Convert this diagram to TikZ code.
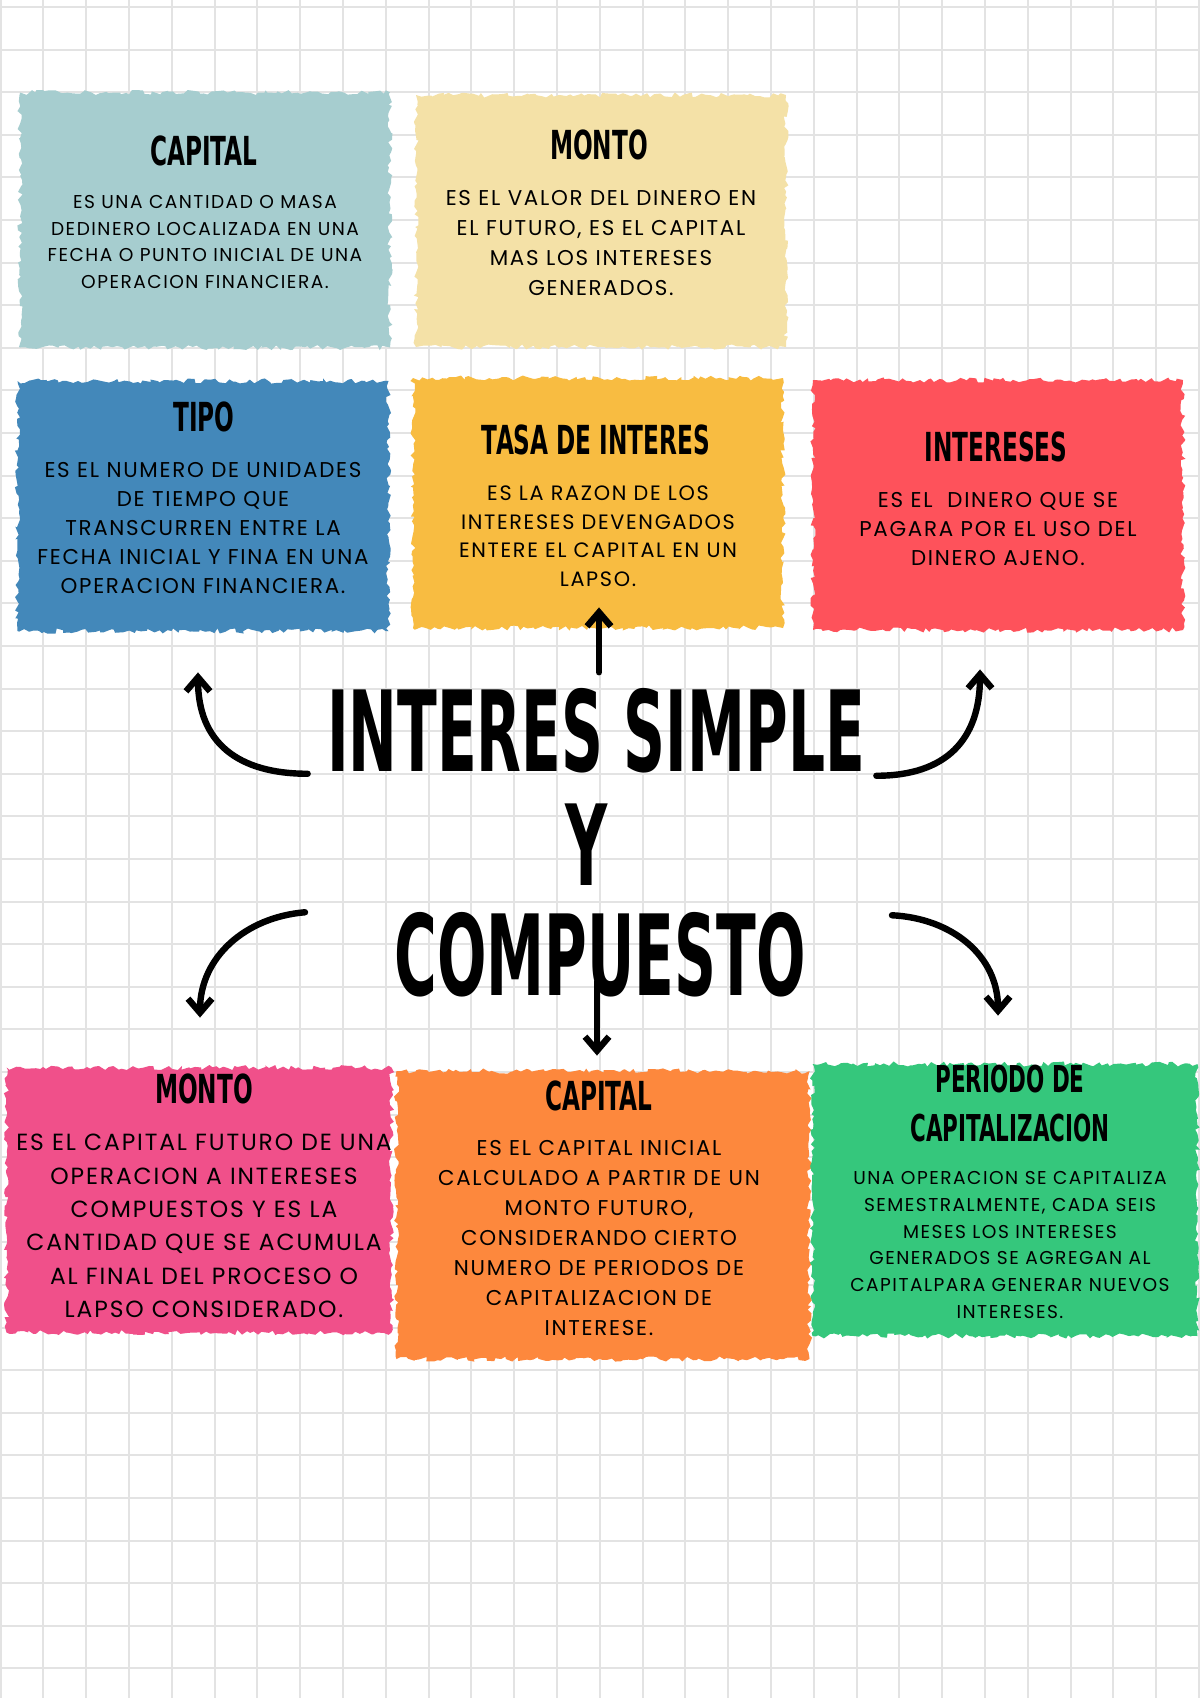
\documentclass[tikz,border=0pt]{standalone}
\usepackage{fontspec}
\setmainfont{Poppins}[LetterSpace=8]
\newfontfamily\ttlfont{DejaVu Sans}[FakeStretch=0.58]
\newfontfamily\bigfont{DejaVu Sans}[FakeStretch=0.52]
\usetikzlibrary{arrows.meta,decorations.pathmorphing}
\definecolor{cteal}{HTML}{A6CDCF}
\definecolor{ccream}{HTML}{F4E1A7}
\definecolor{cblue}{HTML}{4388BA}
\definecolor{cyellow}{HTML}{F8BC41}
\definecolor{cred}{HTML}{FE525B}
\definecolor{cpink}{HTML}{F0508A}
\definecolor{corange}{HTML}{FD883D}
\definecolor{cgreen}{HTML}{35C77C}
\tikzset{
  gridln/.style={line width=1pt, black!11},
  card/.style={fill=#1, decorate, inner sep=0pt,
    decoration={random steps, segment length=2pt, amplitude=1.3pt}},
  ttl/.style={font=\ttlfont\bfseries\fontsize{20}{24.5}\selectfont, align=center, inner sep=0pt},
  txt/.style args={#1/#2}{font=\fontsize{#1}{#2}\selectfont, align=center, inner sep=0pt},
  big/.style={font=\bigfont\bfseries\fontsize{56}{60}\selectfont, inner sep=0pt},
  arr/.style={line width=3.2pt, line cap=round,
    -{Straight Barb[length=7pt, width=12pt]}}
}
\begin{document}
\begin{tikzpicture}[x=0.5pt,y=-0.5pt]
  \pgfmathsetseed{11}
  \fill[white] (0,0) rectangle (1200,1698);
  \useasboundingbox (0,0) rectangle (1200,1698);
  % squared paper
  \foreach \gx in {0,...,28}
    \draw[gridln] (\gx*42.8+0.5,0) -- (\gx*42.8+0.5,1698);
  \foreach \gy in {0,...,39}
    \draw[gridln] (0,\gy*42.6+7) -- (1200,\gy*42.6+7);

  % top cards
  \node[card=cteal, minimum width=185pt, minimum height=127.5pt] (capital) at (205,220) {};
  \node[card=ccream, minimum width=185pt, minimum height=126pt] (monto) at (601,221) {};
  \node[card=cblue, minimum width=185.5pt, minimum height=125pt] (tipo) at (203,506) {};
  \node[card=cyellow, minimum width=185pt, minimum height=125pt] (tasa) at (598,503) {};
  \node[card=cred, minimum width=185pt, minimum height=125pt] (intereses) at (998,505) {};
  % bottom cards
  \node[card=cpink, minimum width=192.5pt, minimum height=132.5pt] (montoc) at (199,1200) {};
  \node[card=corange, minimum width=206.5pt, minimum height=144pt] (capitalc) at (603,1215) {};
  \node[card=cgreen, minimum width=192.5pt, minimum height=136pt] (periodo) at (1005,1200) {};

  \node[ttl] (capital-t) at (204,151) {CAPITAL};
  \node[txt={9.3/13.35}] (capital-b) at (205,242)
    {ES UNA CANTIDAD O MASA\\DEDINERO LOCALIZADA EN UNA\\FECHA O PUNTO INICIAL DE UNA\\OPERACION FINANCIERA.};
  \node[ttl] (monto-t) at (599,145) {MONTO};
  \node[txt={10.7/15}] (monto-b) at (601,243)
    {ES EL VALOR DEL DINERO EN\\EL FUTURO, ES EL CAPITAL\\MAS LOS INTERESES\\GENERADOS.};
  \node[ttl] (tipo-t) at (204,417) {TIPO};
  \node[txt={10.7/14.5}] (tipo-b) at (203,528)
    {ES EL NUMERO DE UNIDADES\\DE TIEMPO QUE\\TRANSCURREN ENTRE LA\\FECHA INICIAL Y FINA EN UNA\\OPERACION FINANCIERA.};
  \node[ttl] (tasa-t) at (596,440) {TASA DE INTERES};
  \node[txt={10.4/14.25}] (tasa-b) at (598,536)
    {ES LA RAZON DE LOS\\INTERESES DEVENGADOS\\ENTERE EL CAPITAL EN UN\\LAPSO.};
  \node[ttl] (intereses-t) at (996,447) {INTERESES};
  \node[txt={10.7/14.5}] (intereses-b) at (998,529)
    {ES EL\ \ DINERO QUE SE\\PAGARA POR EL USO DEL\\DINERO AJENO.};

  \node[ttl] (montoc-t) at (204,1089) {MONTO};
  \node[txt={11.7/16.7}] (montoc-b) at (204,1226)
    {ES EL CAPITAL FUTURO DE UNA\\OPERACION A INTERESES\\COMPUESTOS Y ES LA\\CANTIDAD QUE SE ACUMULA\\AL FINAL DEL PROCESO O\\LAPSO CONSIDERADO.};
  \node[ttl] (capitalc-t) at (599,1096) {CAPITAL};
  \node[txt={10.7/15}] (capitalc-b) at (599,1238)
    {ES EL CAPITAL INICIAL\\CALCULADO A PARTIR DE UN\\MONTO FUTURO,\\CONSIDERANDO CIERTO\\NUMERO DE PERIODOS DE\\CAPITALIZACION DE\\INTERESE.};
  \node[ttl, font=\ttlfont\bfseries\fontsize{18.5}{24.5}\selectfont] (periodo-t) at (1010,1104) {PERIODO DE\\CAPITALIZACION};
  \node[txt={9.3/13.4}] (periodo-b) at (1010,1245)
    {UNA OPERACION SE CAPITALIZA\\SEMESTRALMENTE, CADA SEIS\\MESES LOS INTERESES\\GENERADOS SE AGREGAN AL\\CAPITALPARA GENERAR NUEVOS\\INTERESES.};

  % centre title
  \node[big] (simple) at (596,731) {INTERES SIMPLE};
  \node[big] (y) at (587,845) {Y};
  \node[big] (compuesto) at (600,955) {COMPUESTO};

  \draw[arr] ([xshift=1.5pt,yshift=8pt]simple.north) -- ([xshift=0.5pt,yshift=10.5pt]tasa.south);
  \draw[arr] ([xshift=-9.5pt]simple.south west) .. controls +(-70,0) and +(0,70) .. ([xshift=-2.5pt,yshift=-20.5pt]tipo.south);
  \draw[arr] ([xshift=5.5pt,yshift=-1pt]simple.south east) .. controls +(70,0) and +(0,70) .. ([xshift=-9pt,yshift=-19.5pt]intereses.south);
  \draw[arr] ([xshift=-44.5pt]compuesto.north west) .. controls +(-60,5) and +(0,-60) .. ([xshift=0.5pt,yshift=24.75pt]montoc.north);
  \draw[arr] ([xshift=43pt,yshift=-1.5pt]compuesto.north east) .. controls +(60,3) and +(0,-60) .. ([xshift=-3.5pt,yshift=24pt]periodo.north);
  \draw[arr] ([xshift=-1.5pt,yshift=8pt]compuesto.south) -- ([xshift=-3pt,yshift=7.5pt]capitalc.north);
\end{tikzpicture}
\end{document}
